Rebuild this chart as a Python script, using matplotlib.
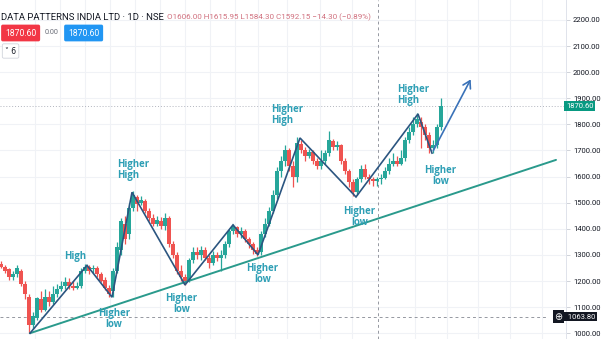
import numpy as np
import matplotlib.pyplot as plt
from matplotlib.patches import Rectangle

# OHLC candles, one per trading day
opens = [1265, 1255, 1245, 1215, 1225, 1240, 1190, 1140,
         1030, 1060, 1130, 1090, 1140, 1120, 1150, 1170, 1180, 1195, 1180, 1175, 1180, 1240,
         1255, 1245, 1250, 1225, 1205, 1175,
         1160, 1240, 1320, 1420, 1380, 1480,
         1520, 1500, 1505, 1470, 1440, 1420, 1430, 1410, 1440, 1340, 1300, 1240, 1215,
         1200, 1280, 1310, 1300, 1320, 1290, 1270, 1300, 1290, 1300, 1340, 1390,
         1405, 1380, 1390, 1360, 1340, 1320,
         1310, 1380, 1420, 1470, 1530, 1620, 1660, 1700, 1640, 1600,
         1725, 1700, 1680, 1695, 1660, 1640, 1660, 1690, 1735, 1715, 1720, 1660, 1620, 1580,
         1540, 1590, 1630, 1600, 1590, 1585, 1590, 1595, 1620, 1650, 1660, 1650, 1670, 1740, 1770, 1800,
         1810, 1790, 1760, 1710, 1720, 1790]
closes = [1255, 1240, 1215, 1225, 1250, 1190, 1150, 1030,
          1065, 1135, 1090, 1140, 1120, 1150, 1170, 1180, 1195, 1180, 1175, 1180, 1240, 1255,
          1240, 1250, 1225, 1200, 1175, 1150,
          1240, 1330, 1430, 1360, 1480, 1530,
          1495, 1510, 1470, 1440, 1420, 1435, 1410, 1440, 1340, 1300, 1240, 1215, 1200,
          1280, 1310, 1300, 1320, 1290, 1270, 1300, 1290, 1300, 1340, 1390, 1410,
          1380, 1390, 1360, 1340, 1320, 1305,
          1380, 1420, 1470, 1530, 1620, 1660, 1700, 1640, 1600, 1730,
          1700, 1680, 1695, 1660, 1640, 1660, 1690, 1740, 1715, 1720, 1660, 1620, 1580, 1540,
          1590, 1630, 1600, 1590, 1585, 1590, 1595, 1620, 1650, 1660, 1650, 1670, 1740, 1770, 1800, 1820,
          1790, 1760, 1710, 1720, 1790, 1870.6]
highs = [1275, 1262, 1250, 1240, 1260, 1245, 1200, 1150,
         1080, 1140, 1160, 1170, 1160, 1180, 1190, 1200, 1215, 1210, 1200, 1195, 1250, 1265,
         1262, 1262, 1258, 1235, 1215, 1185,
         1250, 1350, 1440, 1450, 1500, 1545,
         1530, 1525, 1515, 1480, 1455, 1450, 1445, 1460, 1450, 1355, 1310, 1260, 1225,
         1290, 1330, 1330, 1335, 1330, 1300, 1315, 1310, 1320, 1355, 1400, 1418,
         1412, 1405, 1400, 1370, 1350, 1330,
         1390, 1440, 1485, 1550, 1635, 1680, 1720, 1710, 1660, 1750,
         1740, 1715, 1705, 1700, 1670, 1700, 1700, 1775, 1745, 1735, 1725, 1670, 1630, 1590,
         1600, 1645, 1650, 1610, 1600, 1600, 1610, 1635, 1670, 1690, 1680, 1700, 1750, 1790, 1830, 1845,
         1830, 1800, 1770, 1740, 1800, 1900]
lows = [1250, 1232, 1205, 1205, 1215, 1180, 1130, 1000,
        1015, 1050, 1080, 1085, 1105, 1110, 1140, 1160, 1170, 1170, 1165, 1170, 1175, 1230,
        1225, 1230, 1215, 1195, 1165, 1140,
        1140, 1230, 1300, 1340, 1360, 1470,
        1470, 1490, 1460, 1430, 1410, 1410, 1400, 1395, 1330, 1290, 1225, 1200, 1185,
        1195, 1270, 1285, 1280, 1280, 1250, 1260, 1275, 1240, 1290, 1330, 1380,
        1370, 1365, 1350, 1325, 1305, 1295,
        1300, 1370, 1410, 1460, 1515, 1600, 1640, 1620, 1560, 1580,
        1690, 1660, 1670, 1650, 1630, 1630, 1650, 1680, 1700, 1700, 1650, 1610, 1560, 1525,
        1530, 1580, 1590, 1570, 1565, 1565, 1570, 1590, 1610, 1640, 1640, 1645, 1660, 1730, 1760, 1790,
        1710, 1740, 1690, 1690, 1710, 1780]

# swing points drawn by hand on the chart (candle index, price)
swing_x = [7.25, 21.5, 27.75, 32.75, 46, 58, 64.25, 74.75, 88.75, 104.25, 107.75]
swing_y = [1000, 1260, 1138, 1540, 1185, 1415, 1300, 1748, 1522, 1840, 1690]
arrow_tip = (117.75, 1982)
trend_x = [7.25, 138.75]
trend_y = [1000, 1664]

labels = ['High', 'Higher\nHigh', 'Higher\nlow', 'Higher\nlow', 'Higher\nlow',
          'Higher\nHigh', 'Higher\nlow', 'Higher\nHigh', 'Higher\nlow']
label_x = [18.5, 29, 28.25, 45.1, 65.4, 67.5, 89.6, 99, 109.9]
label_y = [1315, 1667, 1097, 1154, 1269, 1878, 1487, 1955, 1644]
label_ha = ['center', 'left', 'center', 'center', 'center', 'left', 'center', 'left', 'center']

price_ticks = list(range(1000, 2201, 100))
last_price = 1870.60
marked_price = 1063.80

GREEN = '#26a69a'
RED = '#ef5350'
TEXT_C = '#2e9fb5'
ZIG_C = '#2b5580'

W, H = 601, 339
fig = plt.figure(figsize=(W / 100, H / 100), dpi=100)
fig.patch.set_facecolor('white')
ax = fig.add_axes([0, 0, 566 / W, 1])
ax.set_xlim(-0.25, 141.25)
ax.set_ylim(977.8, 2276.6)

# faint grid
for p in price_ticks:
    ax.axhline(p, color='#f0f2f6', lw=0.8, zorder=0)
for px in [35, 60, 85, 110, 135, 160, 185, 210, 235, 258, 287, 320, 352, 415, 447, 478, 510, 542]:
    ax.axvline((px - 1) / 4, color='#f0f2f6', lw=0.8, zorder=0)

# candles
for i, (o, c, h, l) in enumerate(zip(opens, closes, highs, lows)):
    col = GREEN if c >= o else RED
    ax.vlines(i, l, h, color=col, lw=0.9, zorder=2)
    ax.add_patch(Rectangle((i - 0.38, min(o, c)), 0.76, max(abs(c - o), 3),
                           facecolor=col, edgecolor='none', zorder=3))

# reference lines
ax.axhline(last_price, color='#b2b5be', lw=0.7, ls=(0, (1, 2)), zorder=1)
ax.plot([-0.25, 136.5], [marked_price] * 2, color='#9598a1', lw=0.7, ls=(0, (3, 3)), zorder=1)
ax.axvline((378 - 1) / 4, color='#9598a1', lw=0.7, ls=(0, (3, 3)), zorder=1)

# drawings
ax.plot(trend_x, trend_y, color='#2a9a8c', lw=1.4, zorder=4, solid_capstyle='round')
ax.plot(swing_x, swing_y, color=ZIG_C, lw=1.2, zorder=4, solid_joinstyle='miter')
ax.annotate('', xy=arrow_tip, xytext=(swing_x[-1], swing_y[-1]),
            arrowprops=dict(arrowstyle='->,head_length=0.5,head_width=0.3',
                            color='#3a72b8', lw=1.2), zorder=4)

for t, x, y, ha in zip(labels, label_x, label_y, label_ha):
    ax.text(x, y, t, color=TEXT_C, fontsize=6.9, fontweight='bold', ha=ha, va='top',
            multialignment=ha, linespacing=1.0, family='Open Sans', zorder=5)

# price scale on the right
ax.yaxis.tick_right()
ax.set_yticks(price_ticks)
ax.set_yticklabels([f'{p:.2f}' for p in price_ticks], family='Roboto', fontsize=5.5, color='#131722')
ax.tick_params(axis='y', length=3, width=0.6, color='#c9ccd3', pad=2)
ax.set_xticks([])
for s in ['top', 'left', 'bottom']:
    ax.spines[s].set_visible(False)
ax.spines['right'].set_color('#e0e3eb')
ax.spines['right'].set_linewidth(0.7)

# price tags on the scale
ax.text(1.0, last_price, f'{last_price:.2f}', transform=ax.get_yaxis_transform(),
        ha='left', va='center', color='white', fontsize=5.5, family='Roboto',
        bbox=dict(boxstyle='square,pad=0.25', fc='#089981', ec='none'), zorder=6, clip_on=False)
ax.text(1.0, marked_price, f' {marked_price:.2f}', transform=ax.get_yaxis_transform(),
        ha='left', va='center', color='white', fontsize=5.5, family='Roboto',
        bbox=dict(boxstyle='square,pad=0.25', fc='#131722', ec='none'), zorder=6, clip_on=False)
ax.text(0.986, marked_price, '\u2295', transform=ax.get_yaxis_transform(),
        ha='center', va='center', color='white', fontsize=7,
        bbox=dict(boxstyle='square,pad=0.15', fc='#131722', ec='none'), zorder=6, clip_on=False)

# header
fig.text(1 / W, 1 - 17 / H, 'DATA PATTERNS INDIA LTD \u00b7 1D \u00b7 NSE', family='Roboto',
         fontsize=6.8, color='#131722', va='center', ha='left')
fig.text(167 / W, 1 - 17 / H, 'O1606.00 H1615.95 L1584.30 C1592.15 \u221214.30 (\u22120.89%)',
         family='Roboto', fontsize=5.8, color='#d0707e', va='center', ha='left')
fig.text(5 / W, 1 - 33 / H, '1870.60', family='Roboto', fontsize=6.2, color='white',
         va='center', ha='left', bbox=dict(boxstyle='round,pad=0.45,rounding_size=0.2', fc='#f23645', ec='none'))
fig.text(45 / W, 1 - 33 / H, '0.00', family='Roboto', fontsize=5.2, color='#6a6d78',
         va='center', ha='left')
fig.text(68 / W, 1 - 33 / H, '1870.60', family='Roboto', fontsize=6.2, color='white',
         va='center', ha='left', bbox=dict(boxstyle='round,pad=0.45,rounding_size=0.2', fc='#2196f3', ec='none'))
fig.text(5 / W, 1 - 51 / H, '\u02c5 6', family='DejaVu Sans', fontsize=5.5, color='#131722',
         va='center', ha='left', bbox=dict(boxstyle='round,pad=0.35,rounding_size=0.2', fc='white', ec='#d1d4dc', lw=0.6))

fig.savefig('out.png', dpi=100)
